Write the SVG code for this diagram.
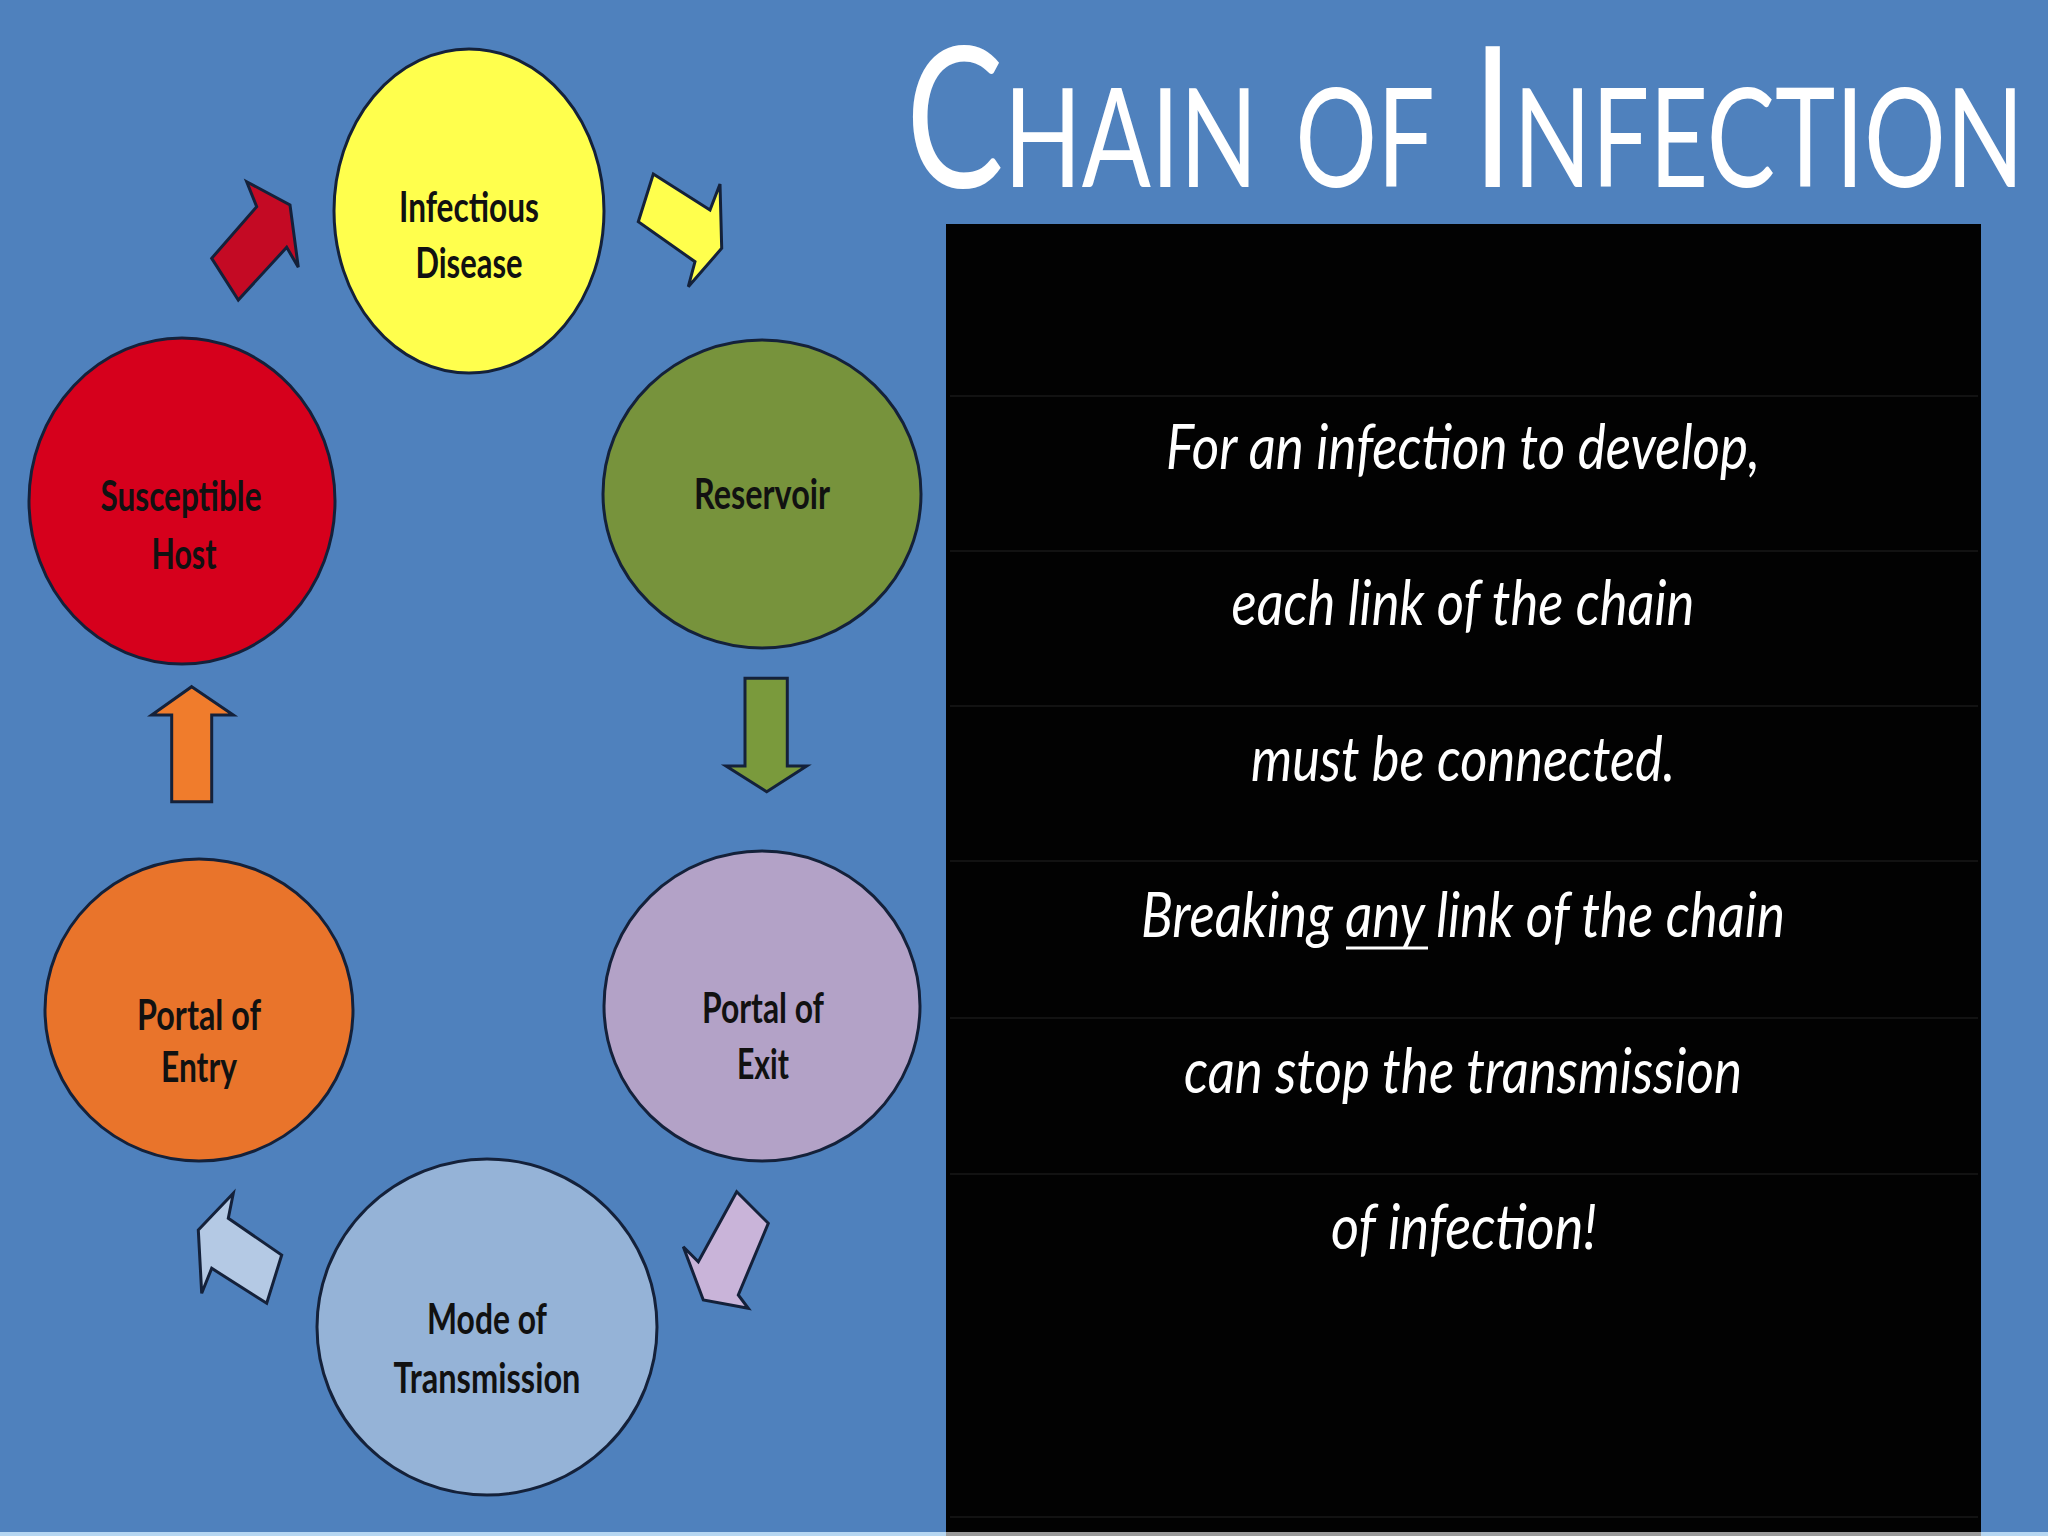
<svg xmlns="http://www.w3.org/2000/svg" width="2048" height="1536" viewBox="0 0 2048 1536">
<style>
.node ellipse{stroke:#14213a;stroke-width:3}
.lbl{font-family:Lato,"Liberation Sans",sans-serif;font-weight:bold;font-size:42px;fill:#111;text-anchor:middle}
.arrow{stroke:#14213a;stroke-width:3;stroke-linejoin:miter}
.body{font-family:Lato,"Open Sans",sans-serif;font-style:italic;font-size:62px;fill:#fff;text-anchor:middle}
.title{font-family:Lato,"Open Sans",sans-serif;fill:#fff;font-size:196px;font-variant:small-caps}
.row{stroke:#121212;stroke-width:2}
</style>
<rect x="0" y="0" width="2048" height="1536" fill="#4f81bd"/>
<rect x="0" y="1532" width="2048" height="4" fill="#b5d6f2"/>
<g id="title">
<text class="title" x="906" y="187" textLength="1118" lengthAdjust="spacingAndGlyphs">Chain of Infection</text>
</g>
<g id="textbox">
<rect x="946" y="224" width="1035" height="1308" fill="#020202"/>
<rect x="946" y="1532" width="1035" height="4" fill="#9a9a9a"/>
<line class="row" x1="950" y1="396" x2="1978" y2="396"/>
<line class="row" x1="950" y1="551" x2="1978" y2="551"/>
<line class="row" x1="950" y1="706" x2="1978" y2="706"/>
<line class="row" x1="950" y1="861" x2="1978" y2="861"/>
<line class="row" x1="950" y1="1018" x2="1978" y2="1018"/>
<line class="row" x1="950" y1="1174" x2="1978" y2="1174"/>
<line class="row" x1="950" y1="1517" x2="1978" y2="1517"/>
<text class="body" x="1463" y="469" textLength="594" lengthAdjust="spacingAndGlyphs">For an infection to develop,</text>
<text class="body" x="1463" y="625" textLength="463" lengthAdjust="spacingAndGlyphs">each link of the chain</text>
<text class="body" x="1463" y="781" textLength="424" lengthAdjust="spacingAndGlyphs">must be connected.</text>
<text class="body" x="1463" y="937" textLength="644" lengthAdjust="spacingAndGlyphs">Breaking any link of the chain</text>
<line x1="1346" y1="948" x2="1428" y2="948" stroke="#fff" stroke-width="3"/>
<text class="body" x="1463" y="1093" textLength="558" lengthAdjust="spacingAndGlyphs">can stop the transmission</text>
<text class="body" x="1464" y="1249" textLength="266" lengthAdjust="spacingAndGlyphs">of infection!</text>
</g>
<g id="connectors">
<polygon class="arrow" fill="#c40a24" points="246.7,181.7 290,205 298.3,267.3 286.7,247.3 238.3,300 211.7,258.3 256.7,206.7"/>
<polygon class="arrow" fill="#ffff4d" points="653.3,174 710,210 720,184 721.7,248.3 688.3,286.7 695,261.7 638.3,221.7"/>
<polygon class="arrow" fill="#7a9a3c" points="745,678.3 787.3,678.3 787.3,766 806.7,766 766.7,791.7 726,766 745,766"/>
<polygon class="arrow" fill="#c9b4d9" points="736.7,1191.7 768.3,1223.3 738.3,1295 748.3,1308.3 703.3,1300 683.3,1246.7 698.3,1261.7"/>
<polygon class="arrow" fill="#b4c9e4" points="233.3,1193.3 228.3,1218.3 281.7,1255 266.7,1303.3 211.7,1268.3 201.7,1293.3 198.3,1230"/>
<polygon class="arrow" fill="#f07c2c" points="191.7,686.7 233.3,715 211.7,715 211.7,801.7 171.7,801.7 171.7,715 151.7,715"/>
</g>
<g id="infectious-disease" class="node">
<ellipse cx="469" cy="211" rx="135" ry="162" fill="#ffff4d"/>
<text class="lbl" x="469" y="222" textLength="140" lengthAdjust="spacingAndGlyphs">Infectious</text>
<text class="lbl" x="469" y="278" textLength="107" lengthAdjust="spacingAndGlyphs">Disease</text>
</g>
<g id="reservoir" class="node">
<ellipse cx="762" cy="494" rx="159" ry="154" fill="#77933c"/>
<text class="lbl" x="762" y="509" textLength="136" lengthAdjust="spacingAndGlyphs">Reservoir</text>
</g>
<g id="portal-of-exit" class="node">
<ellipse cx="762" cy="1006" rx="158" ry="155" fill="#b3a2c7"/>
<text class="lbl" x="763" y="1023" textLength="122" lengthAdjust="spacingAndGlyphs">Portal of</text>
<text class="lbl" x="763" y="1079" textLength="52" lengthAdjust="spacingAndGlyphs">Exit</text>
</g>
<g id="mode-of-transmission" class="node">
<ellipse cx="487" cy="1327" rx="170" ry="168" fill="#95b3d7"/>
<text class="lbl" x="487" y="1334" textLength="120" lengthAdjust="spacingAndGlyphs">Mode of</text>
<text class="lbl" x="487" y="1393" textLength="187" lengthAdjust="spacingAndGlyphs">Transmission</text>
</g>
<g id="portal-of-entry" class="node">
<ellipse cx="199" cy="1010" rx="154" ry="151" fill="#e9742b"/>
<text class="lbl" x="199" y="1030" textLength="124" lengthAdjust="spacingAndGlyphs">Portal of</text>
<text class="lbl" x="199" y="1082" textLength="76" lengthAdjust="spacingAndGlyphs">Entry</text>
</g>
<g id="susceptible-host" class="node">
<ellipse cx="182" cy="501" rx="153" ry="163" fill="#d6001c"/>
<text class="lbl" x="181" y="511" textLength="161" lengthAdjust="spacingAndGlyphs">Susceptible</text>
<text class="lbl" x="184" y="569" textLength="65" lengthAdjust="spacingAndGlyphs">Host</text>
</g>
</svg>
